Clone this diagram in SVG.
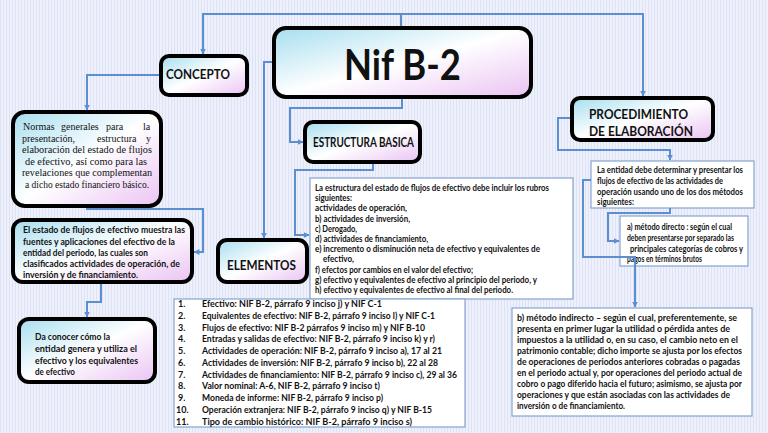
<svg xmlns="http://www.w3.org/2000/svg" width="768" height="433" viewBox="0 0 768 433">
<defs>
<pattern id="bg" width="3" height="10" patternUnits="userSpaceOnUse">
<rect width="3" height="10" fill="#eef1fb"/>
<rect width="1" height="10" fill="#dde3f4"/>
</pattern>
<linearGradient id="g" x1="0" y1="0" x2="1" y2="1">
<stop offset="0" stop-color="#a6def0"/>
<stop offset="0.5" stop-color="#ffffff"/>
<stop offset="1" stop-color="#eac3f3"/>
</linearGradient>
<marker id="a" viewBox="0 0 6 6" refX="5.5" refY="3" markerWidth="6" markerHeight="6" markerUnits="userSpaceOnUse" orient="auto">
<path d="M0,0 L6,3 L0,6 z" fill="#5b8fd0"/>
</marker>
<style>
.n{fill:url(#g);stroke:#000;stroke-width:4}
.b{fill:#fff;stroke:#86a3cf;stroke-width:1.2}
.c{fill:none;stroke:#5b8fd0;stroke-width:2}
.t{font-family:Lato,'Open Sans','Liberation Sans',sans-serif;font-weight:700;fill:#111}
.s{font-family:'Liberation Serif',serif;font-size:10px;fill:#111}
.f9{font-size:9px}
.f8{font-size:8.5px}
</style>
</defs>
<rect width="768" height="433" fill="url(#bg)"/>

<g id="n-nif">
<rect class="n" x="274" y="28" width="257" height="69" rx="12"/>
<text class="t" x="344" y="80" font-size="42" textLength="117" lengthAdjust="spacingAndGlyphs">Nif B-2</text>
</g>

<g id="n-concepto">
<rect class="n" x="161" y="56" width="86" height="39" rx="8"/>
<text class="t" x="166" y="79" font-size="13" textLength="64" lengthAdjust="spacingAndGlyphs">CONCEPTO</text>
</g>

<g id="n-normas">
<rect class="n" x="13" y="112" width="148" height="94" rx="12"/>
<text class="s" y="130"><tspan x="23">Normas</tspan><tspan x="61">generales</tspan><tspan x="106">para</tspan><tspan x="143">la</tspan></text>
<text class="s" y="141.6"><tspan x="22">presentación,</tspan><tspan x="97">estructura</tspan><tspan x="146">y</tspan></text>
<text class="s" x="22" y="153.2" textLength="130" lengthAdjust="spacingAndGlyphs">elaboración del estado de flujos</text>
<text class="s" x="25" y="164.8" textLength="122" lengthAdjust="spacingAndGlyphs">de efectivo, así como para las</text>
<text class="s" x="22" y="176.4" textLength="130" lengthAdjust="spacingAndGlyphs">revelaciones que complementan</text>
<text class="s" x="25" y="188" textLength="124" lengthAdjust="spacingAndGlyphs">a dicho estado financiero básico.</text>
</g>

<g id="n-elestado">
<rect class="n" x="13" y="220" width="179" height="62" rx="10"/>
<text class="t f9" x="23" y="233" textLength="162" lengthAdjust="spacingAndGlyphs">El estado de flujos de efectivo muestra las</text>
<text class="t f9" x="23" y="244.5" textLength="152" lengthAdjust="spacingAndGlyphs">fuentes y aplicaciones del efectivo de la</text>
<text class="t f9" x="23" y="256" textLength="125" lengthAdjust="spacingAndGlyphs">entidad del periodo, las cuales son</text>
<text class="t f9" x="23" y="267" textLength="157" lengthAdjust="spacingAndGlyphs">clasificados actividades de operación, de</text>
<text class="t f9" x="23" y="278" textLength="115" lengthAdjust="spacingAndGlyphs">inversión y de financiamiento.</text>
</g>

<g id="n-daconocer">
<rect class="n" x="19" y="319" width="136" height="63" rx="10"/>
<text class="t f9" x="35" y="340" textLength="75" lengthAdjust="spacingAndGlyphs">Da conocer cómo la</text>
<text class="t f9" x="35" y="352" textLength="102" lengthAdjust="spacingAndGlyphs">entidad genera y utiliza el</text>
<text class="t f9" x="35" y="363.5" textLength="103" lengthAdjust="spacingAndGlyphs">efectivo y los equivalentes</text>
<text class="t f9" x="35" y="375" textLength="40" lengthAdjust="spacingAndGlyphs">de efectivo</text>
</g>

<g id="n-estructura">
<rect class="n" x="305" y="122" width="115" height="40" rx="8"/>
<text class="t" x="313" y="147" font-size="13" textLength="101" lengthAdjust="spacingAndGlyphs">ESTRUCTURA BASICA</text>
</g>

<g id="n-laestructura">
<rect class="b" x="310" y="178" width="263" height="121"/>
<text class="t f8" x="315" y="191" textLength="234" lengthAdjust="spacingAndGlyphs">La estructura del estado de flujos de efectivo debe incluir los rubros</text>
<text class="t f8" x="315" y="201.2" textLength="37" lengthAdjust="spacingAndGlyphs">siguientes:</text>
<text class="t f8" x="315" y="211.4" textLength="92" lengthAdjust="spacingAndGlyphs">actividades de operación,</text>
<text class="t f8" x="315" y="221.6" textLength="95" lengthAdjust="spacingAndGlyphs">b) actividades de inversión,</text>
<text class="t f8" x="315" y="231.8" textLength="42" lengthAdjust="spacingAndGlyphs">c) Derogado,</text>
<text class="t f8" x="315" y="242" textLength="113" lengthAdjust="spacingAndGlyphs">d) actividades de financiamiento,</text>
<text class="t f8" x="315" y="252.2" textLength="225" lengthAdjust="spacingAndGlyphs">e) incremento o disminución neta de efectivo y equivalentes de</text>
<text class="t f8" x="323" y="262.4" textLength="31" lengthAdjust="spacingAndGlyphs">efectivo,</text>
<text class="t f8" x="315" y="272.6" textLength="158" lengthAdjust="spacingAndGlyphs">f) efectos por cambios en el valor del efectivo;</text>
<text class="t f8" x="315" y="282.8" textLength="222" lengthAdjust="spacingAndGlyphs">g) efectivo y equivalentes de efectivo al principio del periodo, y</text>
<text class="t f8" x="315" y="293" textLength="198" lengthAdjust="spacingAndGlyphs">h) efectivo y equivalentes de efectivo al final del periodo.</text>
</g>

<g id="n-elementos">
<rect class="n" x="218" y="240" width="89" height="42" rx="9"/>
<text class="t" x="227" y="270" font-size="14" textLength="69" lengthAdjust="spacingAndGlyphs">ELEMENTOS</text>
</g>

<g id="n-lista">
<rect class="b" x="174" y="299" width="291" height="128"/>
<g class="t f9">
<text x="178" y="307">1.</text><text x="202" y="307" textLength="180" lengthAdjust="spacingAndGlyphs">Efectivo: NIF B-2, párrafo 9 inciso j) y NIF C-1</text>
<text x="178" y="318.75">2.</text><text x="202" y="318.75" textLength="233" lengthAdjust="spacingAndGlyphs">Equivalentes de efectivo: NIF B-2, párrafo 9 inciso l) y NIF C-1</text>
<text x="178" y="330.5">3.</text><text x="202" y="330.5" textLength="223" lengthAdjust="spacingAndGlyphs">Flujos de efectivo: NIF B-2 párrafos 9 inciso m) y NIF B-10</text>
<text x="178" y="342.25">4.</text><text x="202" y="342.25" textLength="233" lengthAdjust="spacingAndGlyphs">Entradas y salidas de efectivo: NIF B-2, párrafo 9 inciso k) y r)</text>
<text x="178" y="354">5.</text><text x="202" y="354" textLength="240" lengthAdjust="spacingAndGlyphs">Actividades de operación: NIF B-2, párrafo 9 inciso a), 17 al 21</text>
<text x="178" y="365.75">6.</text><text x="202" y="365.75" textLength="236" lengthAdjust="spacingAndGlyphs">Actividades de inversión: NIF B-2, párrafo 9 inciso b), 22 al 28</text>
<text x="178" y="377.5">7.</text><text x="202" y="377.5" textLength="255" lengthAdjust="spacingAndGlyphs">Actividades de financiamiento: NIF B-2, párrafo 9 inciso c), 29 al 36</text>
<text x="178" y="389.25">8.</text><text x="202" y="389.25" textLength="178" lengthAdjust="spacingAndGlyphs">Valor nominal: A-6, NIF B-2, párrafo 9 inciso t)</text>
<text x="178" y="401">9.</text><text x="202" y="401" textLength="181" lengthAdjust="spacingAndGlyphs">Moneda de informe: NIF B-2, párrafo 9 inciso p)</text>
<text x="176" y="412.75">10.</text><text x="202" y="412.75" textLength="230" lengthAdjust="spacingAndGlyphs">Operación extranjera: NIF B-2, párrafo 9 inciso q) y NIF B-15</text>
<text x="176" y="424.5">11.</text><text x="202" y="424.5" textLength="210" lengthAdjust="spacingAndGlyphs">Tipo de cambio histórico: NIF B-2, párrafo 9 inciso s)</text>
</g>
</g>

<g id="n-procedimiento">
<rect class="n" x="572" y="98" width="141" height="42" rx="8"/>
<text class="t" x="589" y="119" font-size="13" textLength="99" lengthAdjust="spacingAndGlyphs">PROCEDIMIENTO</text>
<text class="t" x="589" y="136" font-size="13" textLength="104" lengthAdjust="spacingAndGlyphs">DE ELABORACIÓN</text>
</g>

<g id="n-laentidad">
<rect class="b" x="591" y="161" width="163" height="47"/>
<text class="t f8" x="597" y="173" textLength="146" lengthAdjust="spacingAndGlyphs">La entidad debe determinar y presentar los</text>
<text class="t f8" x="597" y="184" textLength="126" lengthAdjust="spacingAndGlyphs">flujos de efectivo de las actividades de</text>
<text class="t f8" x="597" y="195" textLength="146" lengthAdjust="spacingAndGlyphs">operación usando uno de los dos métodos</text>
<text class="t f8" x="597" y="205" textLength="37" lengthAdjust="spacingAndGlyphs">siguientes:</text>
</g>

<g id="n-metodo-directo">
<rect class="b" x="620" y="216" width="128" height="50"/>
<text class="t f8" x="627" y="230" textLength="105" lengthAdjust="spacingAndGlyphs">a) método directo : según el cual</text>
<text class="t f8" x="627" y="241" textLength="107" lengthAdjust="spacingAndGlyphs">deben presentarse por separado las</text>
<text class="t f8" x="630" y="251.5" textLength="113" lengthAdjust="spacingAndGlyphs">principales categorías de cobros y</text>
<text class="t f8" x="627" y="262" textLength="75" lengthAdjust="spacingAndGlyphs">pagos en términos brutos</text>
</g>

<g id="n-metodo-indirecto">
<rect class="b" x="512" y="308" width="240" height="108"/>
<text class="t f8" x="517" y="321" textLength="220" lengthAdjust="spacingAndGlyphs">b) método indirecto – según el cual, preferentemente, se</text>
<text class="t f8" x="517" y="332" textLength="213" lengthAdjust="spacingAndGlyphs">presenta en primer lugar la utilidad o pérdida antes de</text>
<text class="t f8" x="517" y="343" textLength="221" lengthAdjust="spacingAndGlyphs">impuestos a la utilidad o, en su caso, el cambio neto en el</text>
<text class="t f8" x="517" y="354" textLength="225" lengthAdjust="spacingAndGlyphs">patrimonio contable; dicho importe se ajusta por los efectos</text>
<text class="t f8" x="517" y="365" textLength="223" lengthAdjust="spacingAndGlyphs">de operaciones de periodos anteriores cobradas o pagadas</text>
<text class="t f8" x="517" y="376" textLength="225" lengthAdjust="spacingAndGlyphs">en el periodo actual y, por operaciones del periodo actual de</text>
<text class="t f8" x="517" y="387" textLength="225" lengthAdjust="spacingAndGlyphs">cobro o pago diferido hacia el futuro; asimismo, se ajusta por</text>
<text class="t f8" x="517" y="398" textLength="213" lengthAdjust="spacingAndGlyphs">operaciones y que están asociadas con las actividades de</text>
<text class="t f8" x="517" y="409" textLength="108" lengthAdjust="spacingAndGlyphs">inversión o de financiamiento.</text>
</g>

<g id="connectors">
<path class="c" d="M401,26 V14 H203 V54" marker-end="url(#a)"/>
<path class="c" d="M401,14 H643 V96" marker-end="url(#a)"/>
<path class="c" d="M159,75 H87 V110" marker-end="url(#a)"/>
<path class="c" d="M272,62 H264 V238" marker-end="url(#a)"/>
<path class="c" d="M402,99 V108 H290 V142 H303" marker-end="url(#a)"/>
<path class="c" d="M373,164 V170 H295 V235 H309" marker-end="url(#a)"/>
<path class="c" d="M87,208 V209 H203 V252 H194" marker-end="url(#a)"/>
<path class="c" d="M101,284 V302 H87 V317" marker-end="url(#a)"/>
<path class="c" d="M570,118 H558 V150 H670 V160" marker-end="url(#a)"/>
<path class="c" d="M670,208 V213 H608 V241 H619" marker-end="url(#a)"/>
<path class="c" d="M591,180 H583 V257 H635 V307" marker-end="url(#a)"/>
</g>
</svg>
